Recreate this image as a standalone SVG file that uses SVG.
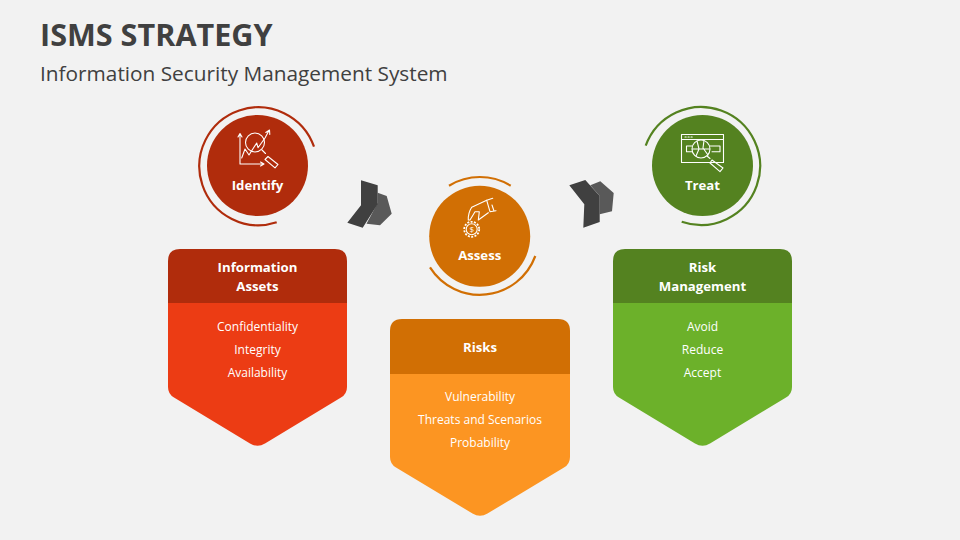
<svg xmlns="http://www.w3.org/2000/svg" width="960" height="540" viewBox="0 0 960 540">
<style>
text{font-family:"Open Sans","Noto Sans","Liberation Sans",sans-serif;text-anchor:middle;fill:#fff}
.h{font-size:13.2px;font-weight:700}
.b{font-size:12px;font-weight:400}
.l{font-size:13.2px;font-weight:700}
.t{text-anchor:start;fill:#404040}
.ring{fill:none;stroke-width:2.2}
.ic{fill:none;stroke:#fff;stroke-width:1.1;stroke-linejoin:round;stroke-linecap:round}
.d{fill:#404040}.m{fill:#595959}
</style>
<rect width="960" height="540" fill="#f2f2f2"/>
<text class="t" x="40" y="46" font-size="30.600" font-weight="700">ISMS STRATEGY</text>
<text class="t" x="40" y="81" font-size="20.800">Information Security Management System</text>
<g id="connectors">
<g id="chevron-1">
<polygon class="m" points="377.700,192.700 386.700,196 391.700,213.700 380,225.300 366.500,223.700 377.700,202.700"/>
<polygon class="d" points="361,180.300 377.700,185.300 377.700,204 362.700,227.700 347.300,222.700 361,205.300"/>
</g>
<g id="chevron-2">
<polygon class="m" points="590.300,185.300 600.300,181.300 613.700,193 612,211.300 599.700,214.300 599.700,196"/>
<polygon class="d" points="569.300,185.300 585.300,180 599.700,196 599.700,222 583.300,227.700 584.300,204.300"/>
</g>
</g>
<g id="identify">
<path class="ring" stroke="#b02c0c" d="M314,146.700A59,59 0 1 0 276.700,222.300"/>
<circle cx="257.500" cy="165.500" r="50.500" fill="#b02c0c"/>
<g class="ic">
<path d="M240,134V164H263M238,137L240,133.500L242,137M260.500,162L264,164L260.500,166"/>
<path d="M241.700,158L245,149L249,155L256.700,143L258,147.700L265,138L269,130.500M265.800,132.500L269.500,130L269.800,134.500"/>
<circle cx="255" cy="142.500" r="9.500"/>
<path d="M262,150L265.500,153.500M268,156.500L278,164.500L275,167.800L265,159.500Z"/>
</g>
<text class="l" x="257.500" y="189.500">Identify</text>
</g>
<g id="assess">
<path class="ring" stroke="#d16f04" d="M449,185.700A59,59 0 0 1 510.700,185.700M430,267.300A59,59 0 0 0 535.300,256"/>
<circle cx="479.700" cy="236.300" r="50.500" fill="#d16f04"/>
<g class="ic">
<path d="M486.700,200.300L471.700,207.300Q468,213 468.300,220L470,220L475,211.700L479.300,211.700L478.300,220L488.300,212.700"/>
<path d="M486.700,200.300L492.700,198.300M486.700,200.300L490,211.700L496,210.700M492,205L494,211"/>
<circle cx="471.700" cy="229.300" r="5.500"/>
<circle cx="471.700" cy="229.300" r="7.500" stroke-dasharray="2 1.400" stroke-width="1.800" stroke-linecap="butt"/>
</g>
<text x="471.700" y="232.300" style="font-size:8px">$</text>
<text class="l" x="479.700" y="259.500">Assess</text>
</g>
<g id="treat">
<path class="ring" stroke="#548220" d="M645.700,145.700A59,59 0 1 1 681.700,221.700"/>
<circle cx="702.500" cy="165.500" r="50.500" fill="#548220"/>
<g class="ic">
<rect x="681.500" y="134.500" width="42" height="28"/>
<path d="M681.500,139.500H723.500"/>
<path d="M685,137H693" stroke-dasharray="1.200 1.800"/>
<path d="M692,146H686.500V151.700H692M710,146H720V151.700H712"/>
<circle cx="701" cy="149" r="9" fill="#548220"/>
<path d="M697,141L699,149L696,156M704,140.500L703,148L708,155M692.500,149H709.500"/>
<path d="M707,156L710,158.500M712,160L723,168L720,171.700L710,163Z"/>
</g>
<text class="l" x="702.500" y="189.500">Treat</text>
</g>
<g id="information-assets">
<path d="M168,303H347V387Q347,394 341,397.500L265,443.500Q257.500,448 250,443.500L174,397.500Q168,394 168,387Z" fill="#ec3c14"/>
<path d="M168,303V261Q168,249 180,249H335Q347,249 347,261V303Z" fill="#b02c0c"/>
<text class="h" x="257.500" y="272">Information</text>
<text class="h" x="257.500" y="291">Assets</text>
<text class="b" x="257.500" y="331">Confidentiality</text>
<text class="b" x="257.500" y="354">Integrity</text>
<text class="b" x="257.500" y="377">Availability</text>
</g>
<g id="risks">
<path d="M390,374H570V457Q570,464 564,467.500L487.500,513.500Q480,518 472.500,513.500L396,467.500Q390,464 390,457Z" fill="#fc9522"/>
<path d="M390,374V331Q390,319 402,319H558Q570,319 570,331V374Z" fill="#d16f04"/>
<text class="h" x="480" y="351.500">Risks</text>
<text class="b" x="480" y="401">Vulnerability</text>
<text class="b" x="480" y="424">Threats and Scenarios</text>
<text class="b" x="480" y="447">Probability</text>
</g>
<g id="risk-management">
<path d="M613,303H792V387Q792,394 786,397.500L710,443.500Q702.500,448 695,443.500L619,397.500Q613,394 613,387Z" fill="#6cb12a"/>
<path d="M613,303V261Q613,249 625,249H780Q792,249 792,261V303Z" fill="#548220"/>
<text class="h" x="702.500" y="272">Risk</text>
<text class="h" x="702.500" y="291">Management</text>
<text class="b" x="702.500" y="331">Avoid</text>
<text class="b" x="702.500" y="354">Reduce</text>
<text class="b" x="702.500" y="377">Accept</text>
</g>
</svg>
